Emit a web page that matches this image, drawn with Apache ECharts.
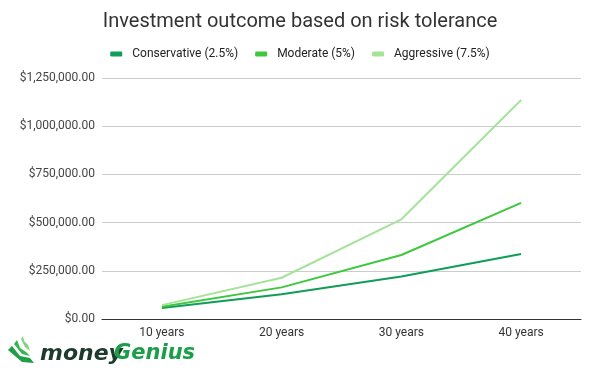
<!DOCTYPE html>
<html>
<head>
<meta charset="utf-8">
<script src="https://cdn.jsdelivr.net/npm/echarts@6/dist/echarts.min.js"></script>
<style>html,body{margin:0;padding:0;background:#fff}#c{width:600px;height:371px}</style>
</head>
<body>
<div id="c"></div>
<script>
const categories = ['10 years', '20 years', '30 years', '40 years'];
const conservative = [57000, 128000, 220000, 337000];
const moderate = [64000, 164000, 332000, 602000];
const aggressive = [72000, 214000, 517000, 1136000];
const seriesNames = ['Conservative (2.5%)', 'Moderate (5%)', 'Aggressive (7.5%)'];
const yTicks = [0, 250000, 500000, 750000, 1000000, 1250000];

const colors = ['#0f9d58', '#3ec83e', '#a5e39a'];
const chart = echarts.init(document.getElementById('c'));
const fmt = v => '$' + v.toLocaleString('en-US', {minimumFractionDigits: 2, maximumFractionDigits: 2});
chart.setOption({
  animation: false,
  color: colors,
  title: {
    text: 'Investment outcome based on risk tolerance',
    left: 'center', top: 7,
    textStyle: {fontFamily: 'Roboto', fontWeight: 'normal', fontSize: 20, color: '#333'}
  },
  legend: {
    top: 43, left: 'center',
    itemWidth: 12, itemHeight: 5, itemGap: 17,
    icon: 'roundRect',
    textStyle: {fontFamily: 'Roboto', fontSize: 12, color: '#222', padding: [0, 0, 0, 5]},
    data: seriesNames
  },
  grid: {left: 102, right: 19, top: 78, bottom: 52},
  xAxis: {
    type: 'category', data: categories, boundaryGap: true,
    axisLine: {lineStyle: {color: '#333', width: 1}},
    axisTick: {show: false},
    axisLabel: {fontFamily: 'Roboto', fontSize: 12, color: '#333', margin: 8}
  },
  yAxis: {
    type: 'value', min: yTicks[0], max: yTicks[yTicks.length - 1], interval: yTicks[1] - yTicks[0],
    axisLine: {show: false}, axisTick: {show: false},
    splitLine: {lineStyle: {color: '#cccccc'}},
    axisLabel: {fontFamily: 'Roboto', fontSize: 12, color: '#444', margin: 7, formatter: fmt}
  },
  series: [
    {name: seriesNames[0], type: 'line', data: conservative, symbol: 'none', lineStyle: {width: 2}},
    {name: seriesNames[1], type: 'line', data: moderate, symbol: 'none', lineStyle: {width: 2}},
    {name: seriesNames[2], type: 'line', data: aggressive, symbol: 'none', lineStyle: {width: 2}}
  ],
  graphic: [
    {type: 'polygon', shape: {points: [[8,350],[22,362],[34,363],[30,358],[20,356],[12,346]]}, style: {fill: '#1f9e45'}},
    {type: 'polygon', shape: {points: [[14,344],[22,354],[30,356],[26,352],[20,348],[17,340]]}, style: {fill: '#2fb84f'}},
    {type: 'polygon', shape: {points: [[21,339],[25,347],[30,351],[28,345],[24,341],[23,336]]}, style: {fill: '#7fd37f'}},
    {type: 'text', left: 40, top: 343, style: {text: 'money', font: 'italic bold 22px "DejaVu Sans"', fill: '#1d3b2c'}},
    {type: 'text', left: 114, top: 343, style: {text: 'Genius', font: 'italic bold 21px "DejaVu Sans"', fill: '#1a9e4a'}}
  ]
});
</script>
</body>
</html>
